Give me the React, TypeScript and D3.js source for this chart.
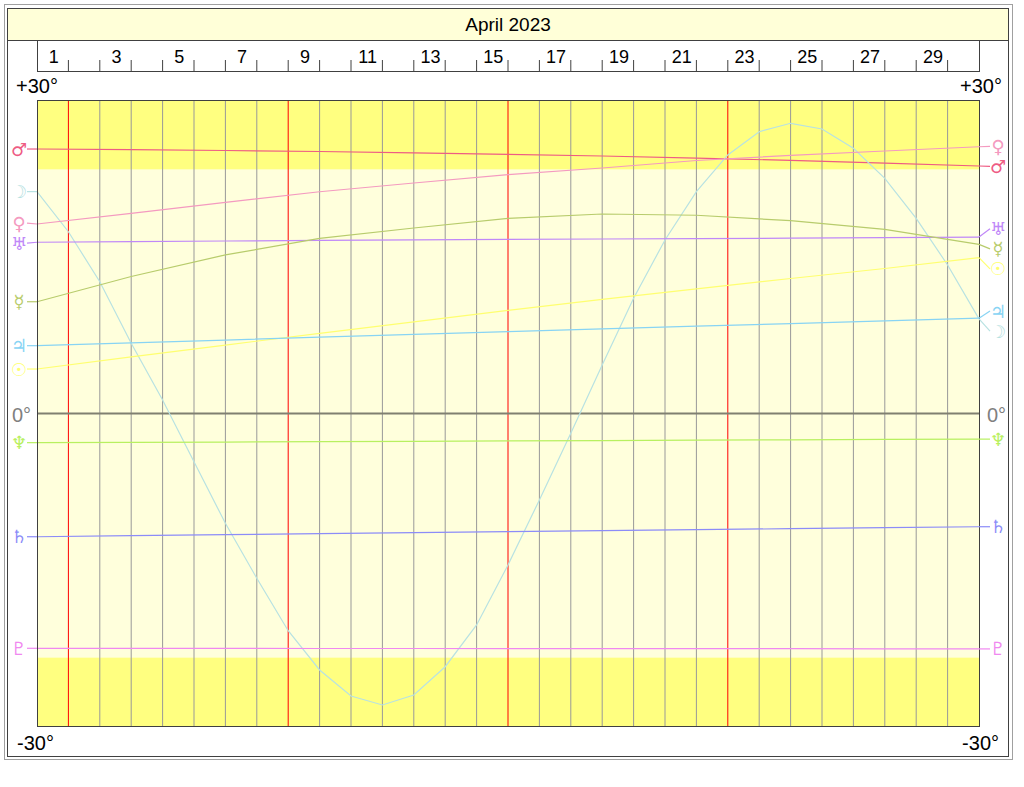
import React from "react";
import * as d3 from "d3";

const TITLE = "April 2023";
const START = new Date(Date.UTC(2023, 3, 1));
const END = new Date(Date.UTC(2023, 4, 1));
const DAY_LABELS = [1, 3, 5, 7, 9, 11, 13, 15, 17, 19, 21, 23, 25, 27, 29];
const RED_DAYS = [2, 9, 16, 23];
const Y_TICKS = [30, 0, -30];
const ECLIPTIC = 23.44;

// Moon declination at 0h of each day (Apr 1 .. May 1)
const MOON_DAYS = d3.range(1, 32);
const MOON = [
  21.3, 17.45, 12.65, 6.74, 1.3, -4.63, -10.54, -15.82, -20.85, -24.62, -27.12,
  -27.98, -27.02, -24.31, -20.3, -14.54, -8.3, -1.9, 4.66, 11.06, 16.66, 21.29,
  24.82, 27.05, 27.86, 27.31, 25.46, 22.58, 18.74, 14.26, 9.08,
];

// Slower bodies, sampled every 3 days
const SAMPLE_DAYS = [1, 4, 7, 10, 13, 16, 19, 22, 25, 28, 31];
const MARS = [25.39, 25.33, 25.25, 25.15, 25.02, 24.88, 24.72, 24.52, 24.3, 24.04, 23.76];
const VENUS = [18.19, 19.21, 20.27, 21.29, 22.13, 22.94, 23.57, 24.29, 24.78, 25.2, 25.61];
const URANUS = [16.44, 16.5, 16.56, 16.62, 16.67, 16.71, 16.75, 16.79, 16.83, 16.88, 16.94];
const MERCURY = [10.73, 13.15, 15.22, 16.81, 17.81, 18.74, 19.15, 19.03, 18.51, 17.68, 16.24];
const SUN = [4.27, 5.43, 6.57, 7.7, 8.8, 9.9, 10.95, 11.97, 12.96, 13.92, 14.96];
const JUPITER = [6.51, 6.78, 7.05, 7.33, 7.6, 7.86, 8.12, 8.38, 8.63, 8.89, 9.15];
const NEPTUNE = [-2.8, -2.77, -2.74, -2.7, -2.67, -2.63, -2.6, -2.56, -2.53, -2.49, -2.46];
const SATURN = [-11.83, -11.73, -11.63, -11.53, -11.43, -11.34, -11.25, -11.15, -11.06, -10.96, -10.87];
const PLUTO = [-22.54, -22.55, -22.55, -22.56, -22.56, -22.57, -22.57, -22.58, -22.58, -22.59, -22.6];

const BODIES = [
  { name: "Mars", glyph: "♂", color: "#EE5C84", days: SAMPLE_DAYS, values: MARS },
  { name: "Moon", glyph: "☽", color: "#B8E2E2", days: MOON_DAYS, values: MOON },
  { name: "Venus", glyph: "♀", color: "#F49AC0", days: SAMPLE_DAYS, values: VENUS },
  { name: "Uranus", glyph: "♅", color: "#C088F8", days: SAMPLE_DAYS, values: URANUS },
  { name: "Mercury", glyph: "☿", color: "#B8CC6C", days: SAMPLE_DAYS, values: MERCURY },
  { name: "Sun", glyph: "☉", color: "#FFFF70", days: SAMPLE_DAYS, values: SUN },
  { name: "Jupiter", glyph: "♃", color: "#88D4F4", days: SAMPLE_DAYS, values: JUPITER },
  { name: "Neptune", glyph: "♆", color: "#B8F060", days: SAMPLE_DAYS, values: NEPTUNE },
  { name: "Saturn", glyph: "♄", color: "#8C8CF8", days: SAMPLE_DAYS, values: SATURN },
  { name: "Pluto", glyph: "♇", color: "#F088F0", days: SAMPLE_DAYS, values: PLUTO },
];

const W = 1024;
const H = 787;
const PL = 37, PR = 979, PT = 101, PB = 726;
const FONT = "'Liberation Sans', Arial, sans-serif";
const GLYPH_FONT = "'DejaVu Sans', sans-serif";

function spread(targets: number[], gap: number): number[] {
  const idx = targets.map((t, i) => i).sort((a, b) => targets[a] - targets[b]);
  let groups: { members: number[]; top: number }[] = [];
  for (const i of idx) {
    groups.push({ members: [i], top: targets[i] });
    let merged = true;
    while (merged && groups.length > 1) {
      merged = false;
      const g = groups[groups.length - 1];
      const p = groups[groups.length - 2];
      const pBottom = p.top + (p.members.length - 1) * gap;
      if (g.top - pBottom < gap) {
        const members = p.members.concat(g.members);
        const mean = d3.mean(members, (m) => targets[m]) as number;
        const top = mean - ((members.length - 1) * gap) / 2;
        groups.splice(groups.length - 2, 2, { members, top });
        merged = true;
      }
    }
  }
  const out = new Array(targets.length).fill(0);
  groups.forEach((g) => g.members.forEach((m, k) => (out[m] = g.top + k * gap)));
  return out;
}

export default function App() {
  const x = d3.scaleUtc().domain([START, END]).range([PL, PR]);
  const y = d3.scaleLinear().domain([-30, 30]).range([PB, PT]);
  const dayDate = (d: number) => d3.utcDay.offset(START, d - 1);
  const boundaries = d3.utcDay.range(d3.utcDay.offset(START, 1), END);

  const line = d3
    .line<[number, number]>()
    .x((p) => x(dayDate(p[0])))
    .y((p) => y(p[1]));

  const startYs = BODIES.map((b) => y(b.values[0]));
  const endYs = BODIES.map((b) => y(b.values[b.values.length - 1]));
  const leftLab = spread(startYs, 20);
  const rightLab = spread(endYs, 20).map((v, i) => (Math.abs(v - endYs[i]) > 1 ? v + 2.5 : v));

  return (
    <svg
      width={W}
      height={H}
      style={{ position: "absolute", left: 0, top: 0, background: "#fff" }}
      fontFamily={FONT}
    >
      {/* frames */}
      <rect x={4.5} y={4.5} width={1008} height={755} fill="none" stroke="#a0a0a0" />
      <rect x={7.5} y={8.5} width={1001} height={748} fill="#fff" stroke="#404040" />
      {/* header */}
      <rect x={8} y={9} width={1000} height={31} fill="#FFFFD8" />
      <line x1={8} x2={1008} y1={40.5} y2={40.5} stroke="#404040" />
      <text x={(8 + 1008) / 2} y={31} textAnchor="middle" fontSize={19} fill="#000">
        {TITLE}
      </text>
      {/* day axis */}
      <line x1={PL + 0.5} x2={PL + 0.5} y1={40} y2={72} stroke="#404040" />
      <line x1={PR + 0.5} x2={PR + 0.5} y1={40} y2={72} stroke="#404040" />
      <line x1={PL} x2={PR + 1} y1={71.5} y2={71.5} stroke="#404040" />
      {boundaries.map((b, i) => (
        <line key={"t" + i} x1={x(b)} x2={x(b)} y1={60} y2={71} stroke="#404040" />
      ))}
      {DAY_LABELS.map((d) => (
        <text
          key={"dl" + d}
          x={x(new Date(dayDate(d).getTime() + 12 * 3600 * 1000)) + 1}
          y={63}
          textAnchor="middle"
          fontSize={18}
          fill="#000"
        >
          {d}
        </text>
      ))}
      {/* plot background */}
      <rect x={PL} y={PT} width={PR - PL} height={PB - PT} fill="#FFFF80" />
      <rect
        x={PL}
        y={y(ECLIPTIC)}
        width={PR - PL}
        height={y(-ECLIPTIC) - y(ECLIPTIC)}
        fill="#FFFFDC"
      />
      {/* grid */}
      {boundaries.map((b, i) => (
        <line
          key={"g" + i}
          x1={x(b)}
          x2={x(b)}
          y1={PT}
          y2={PB}
          stroke={RED_DAYS.includes(b.getUTCDate()) ? "#FF0000" : "#999999"}
          strokeWidth={1}
        />
      ))}
      <line x1={PL} x2={PR} y1={y(0)} y2={y(0)} stroke="#808070" strokeWidth={2} />
      {/* series */}
      {BODIES.map((b) => (
        <path
          key={b.name}
          d={line(b.days.map((d, i) => [d, b.values[i]] as [number, number])) || ""}
          fill="none"
          stroke={b.color}
          strokeWidth={1.2}
        />
      ))}
      <rect x={PL + 0.5} y={PT - 0.5} width={PR - PL} height={PB - PT + 1} fill="none" stroke="#404040" />
      {/* labels left */}
      {BODIES.map((b, i) => (
        <g key={"ll" + b.name}>
          <line x1={27} y1={leftLab[i]} x2={PL} y2={startYs[i]} stroke={b.color} strokeWidth={1.2} />
          <text
            x={19}
            y={leftLab[i] + 6.5}
            textAnchor="middle"
            fontSize={18}
            fontFamily={GLYPH_FONT}
            fill={b.color}
          >
            {b.glyph}
          </text>
        </g>
      ))}
      {/* labels right */}
      {BODIES.map((b, i) => (
        <g key={"rl" + b.name}>
          <line x1={PR} y1={endYs[i]} x2={990} y2={rightLab[i]} stroke={b.color} strokeWidth={1.2} />
          <text
            x={998}
            y={rightLab[i] + 6.5}
            textAnchor="middle"
            fontSize={18}
            fontFamily={GLYPH_FONT}
            fill={b.color}
          >
            {b.glyph}
          </text>
        </g>
      ))}
      {/* y labels */}
      {Y_TICKS.map((t) => {
        const label = t > 0 ? `+${t}°` : `${t}°`;
        const yy = t === 30 ? 93 : t === 0 ? y(0) + 8.5 : 750;
        const color = t === 0 ? "#808080" : "#000";
        return (
          <g key={"yt" + t}>
            <text x={t === 0 ? 12 : t === 30 ? 16 : 17} y={yy} fontSize={20} fill={color}>
              {label}
            </text>
            <text x={t === 0 ? 1006 : t === 30 ? 1002 : 999} y={yy} fontSize={20} fill={color} textAnchor="end">
              {label}
            </text>
          </g>
        );
      })}
    </svg>
  );
}
